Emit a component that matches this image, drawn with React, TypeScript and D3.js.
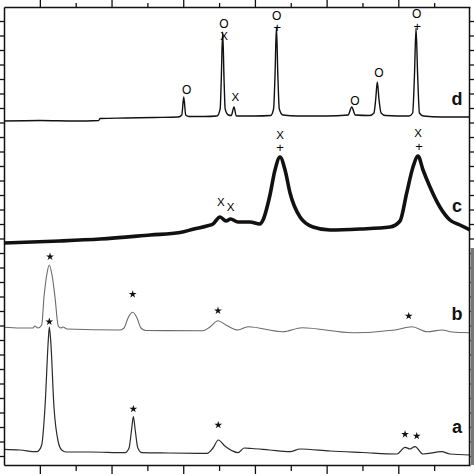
import React, { useEffect, useRef } from "react";
import * as d3 from "d3";

// 2theta (deg) vs intensity (a.u.), one array per pattern
const traceNames = ["a", "b", "c", "d"];
const traceOffsets = [10, 135, 222, 344];
const traceColors = ["#2a2a2a", "#6a6a6a", "#111", "#111"];
const traceWidths = [1.2, 1.1, 3.6, 1.4];

const traceA = [
  [15.0, 5.7], [17.2, 5], [19.6, 3.3], [19.8, 4], [20.26, 10], [20.72, 48], [21.18, 115],
  [21.32, 128], [21.51, 115], [21.97, 48], [22.57, 13], [23.05, 5], [23.65, 3], [27, 3],
  [31.88, 2.3], [32.44, 7], [32.79, 25], [33.04, 38.3], [33.3, 25], [33.67, 7], [34.25, 2.3],
  [38, 2], [43.32, 1.7], [44.15, 7], [44.9, 15], [45.8, 9], [46.8, 4.3], [47.64, 2.3],
  [48.5, 7], [49.6, 6.5], [52, 5], [54.9, 3.3], [56.29, 6], [60.47, 4], [65, 2.5],
  [69.82, 1], [70.94, 7.7], [71.63, 6], [72.33, 8.3], [73.45, 1], [76.05, 3.3],
  [77.2, 1], [80, 0],
];

const traceB = [
  [15.0, 2.7], [17.2, 2], [19.05, 2], [19.3, 4], [19.74, 2], [20.26, 5], [20.58, 33],
  [20.96, 55], [21.32, 65], [21.7, 55], [22.11, 33], [22.57, 4], [22.95, 2], [23.23, 3],
  [23.8, 1], [31.18, 0], [31.74, 2], [32.3, 12], [32.95, 17.7], [33.56, 12], [34.1, 2],
  [34.8, -0.5], [42.76, -0.7], [43.73, 3], [44.85, 9.3], [45.97, 5], [47.64, 0],
  [49.04, 3.3], [53.9, -1.7], [56.57, 2.3], [63.68, -2.7], [69.5, 0], [71.91, 3.3],
  [74.0, -1.7], [76.1, 0], [77.5, -2], [80, -2.7],
];

const traceC = [
  [15.0, 0], [22.8, 2], [28.4, 4], [35.4, 8], [39.55, 10.5], [41.5, 14], [43.3, 17],
  [44.15, 19], [45.13, 26], [45.97, 22], [46.6, 24], [47.64, 21], [49.3, 21], [50.7, 19],
  [51.13, 23], [52.1, 48], [52.8, 73], [53.5, 86], [54.2, 73], [54.9, 50], [56.29, 26],
  [58.1, 16], [60.47, 13], [64.66, 14], [68.84, 16], [70.24, 22], [71.17, 50], [72.05, 76],
  [72.75, 87], [73.45, 73], [74.42, 56], [75.8, 36], [77.2, 23], [78.6, 18], [80, 13],
];

const traceD = [
  [15.0, 0], [20.0, 0.5], [25, 0], [28.2, 0.5], [28.4, 2.5], [32, 3], [36, 3.5], [39.3, 4],
  [39.8, 6], [40.07, 24], [40.35, 6], [40.8, 4.5], [43, 4.5], [44.7, 5], [45.15, 12],
  [45.3, 40], [45.5, 89], [45.7, 40], [45.85, 12], [46.3, 6], [46.7, 5.5], [47.08, 14],
  [47.4, 5], [48, 5], [50, 5], [52.2, 5.5], [52.6, 12], [52.8, 45], [53.0, 94], [53.2, 45],
  [53.4, 12], [53.9, 6], [56, 5], [60, 5], [63.0, 6], [63.5, 14], [64.0, 6], [66, 5.5],
  [66.6, 8], [66.85, 22], [67.07, 39], [67.3, 22], [67.6, 8], [68.2, 5.5], [71.5, 5],
  [72.0, 8], [72.25, 45], [72.47, 93], [72.7, 45], [72.95, 8], [73.5, 5], [76, 4], [80, 4],
];

const traces = [traceA, traceB, traceC, traceD];

// phase marks: [2theta, intensity, trace index, symbol]
const phaseMarks = [
  [40.48, 31.7, 3, "O"], [45.69, 97, 3, "O"], [45.69, 85, 3, "X"], [47.26, 23.7, 3, "X"],
  [53.04, 105.5, 3, "O"], [53.12, 93, 3, "+"], [63.96, 20.3, 3, "O"], [67.31, 48.3, 3, "O"],
  [72.57, 107, 3, "O"], [72.65, 94.3, 3, "+"],
  [45.23, 41.3, 2, "X"], [46.62, 36.3, 2, "X"], [53.5, 108, 2, "X"], [53.5, 95, 2, "+"],
  [72.75, 110.5, 2, "X"], [72.89, 96.5, 2, "+"],
];

const starMarks = [
  [21.42, 73.3, 1], [32.95, 35.7, 1], [44.85, 19.3, 1], [71.45, 14, 1],
  [21.32, 133.3, 0], [33.04, 46, 0], [44.89, 30, 0], [70.94, 20.7, 0], [72.57, 19, 0],
];

const labelPos = [22, 10, 31, 16];

export default function App() {
  const svgRef = useRef(null);

  useEffect(() => {
    const svg = d3.select(svgRef.current);
    svg.selectAll("*").remove();

    const x = d3.scaleLinear().domain([15, 80]).range([4, 470]);
    const y = d3.scaleLinear().domain([0, 458]).range([465, 7]);
    const font = "'Liberation Sans', Arial, sans-serif";

    const line = d3
      .line()
      .x((d) => x(d[0]))
      .y((d) => y(d[1]))
      .curve(d3.curveMonotoneX);

    traces.forEach((tr, i) => {
      svg
        .append("path")
        .attr("d", line(tr.map((p) => [p[0], p[1] + traceOffsets[i]])))
        .attr("fill", "none")
        .attr("stroke", traceColors[i])
        .attr("stroke-width", traceWidths[i])
        .attr("stroke-linejoin", "round");
    });

    // axes
    const xTicks = d3.range(20, 80, 5);
    const yTicks = d3.range(31).map((k) => 9 + k * 14.5);

    const bottom = svg
      .append("g")
      .attr("transform", `translate(0,${y(0)})`)
      .call(d3.axisBottom(x).tickValues(xTicks).tickFormat(() => "").tickSizeOuter(0));
    bottom.selectAll(".tick line").attr("y2", (d) => (d % 10 === 0 ? 10 : 6));

    const top = svg
      .append("g")
      .attr("transform", `translate(0,${y(458)})`)
      .call(d3.axisTop(x).tickValues(xTicks).tickFormat(() => "").tickSizeOuter(0));
    top.selectAll(".tick line").attr("y2", (d) => (d % 10 === 0 ? -7 : -4));

    svg
      .append("g")
      .attr("transform", `translate(${x(15)},0)`)
      .call(d3.axisLeft(y).tickValues(yTicks).tickFormat(() => "").tickSize(4).tickSizeOuter(0));

    svg
      .append("g")
      .attr("transform", `translate(${x(80) - 1},0)`)
      .call(d3.axisRight(y).tickValues(yTicks).tickFormat(() => "").tickSize(5).tickSizeOuter(0));

    svg.selectAll(".domain").attr("stroke-width", 1.5).attr("stroke", "#111");
    svg.selectAll(".tick line").attr("stroke-width", 1.3).attr("stroke", "#111");

    svg
      .append("rect")
      .attr("x", x(80) + 0.5)
      .attr("y", y(217))
      .attr("width", 4)
      .attr("height", y(0) - y(217))
      .attr("fill", "#777");

    // phase symbols
    svg
      .selectAll("text.mark")
      .data(phaseMarks)
      .enter()
      .append("text")
      .attr("class", "mark")
      .attr("x", (d) => x(d[0]))
      .attr("y", (d) => y(d[1] + traceOffsets[d[2]]))
      .attr("dy", (d) => (d[3] === "+" ? "0.34em" : "0.36em"))
      .attr("text-anchor", "middle")
      .attr("font-family", font)
      .attr("font-size", (d) => (d[3] === "+" ? 13 : d[3] === "O" ? 12 : 11.5))
      .attr("fill", "#000")
      .text((d) => d[3]);

    svg
      .selectAll("path.star")
      .data(starMarks)
      .enter()
      .append("path")
      .attr("class", "star")
      .attr("d", d3.symbol(d3.symbolStar).size(19)())
      .attr("transform", (d) => `translate(${x(d[0])},${y(d[1] + traceOffsets[d[2]])})`)
      .attr("fill", "#111");

    svg
      .selectAll("text.lbl")
      .data(traceNames)
      .enter()
      .append("text")
      .attr("class", "lbl")
      .attr("x", x(78.2))
      .attr("y", (d, i) => y(labelPos[i] + traceOffsets[i]))
      .attr("text-anchor", "middle")
      .attr("font-family", font)
      .attr("font-weight", "bold")
      .attr("font-size", 18)
      .attr("fill", "#111")
      .text((d) => d);
  }, []);

  return (
    <svg
      ref={svgRef}
      width="474"
      height="474"
      style={{ position: "absolute", left: 0, top: 0, background: "#fff" }}
    />
  );
}
